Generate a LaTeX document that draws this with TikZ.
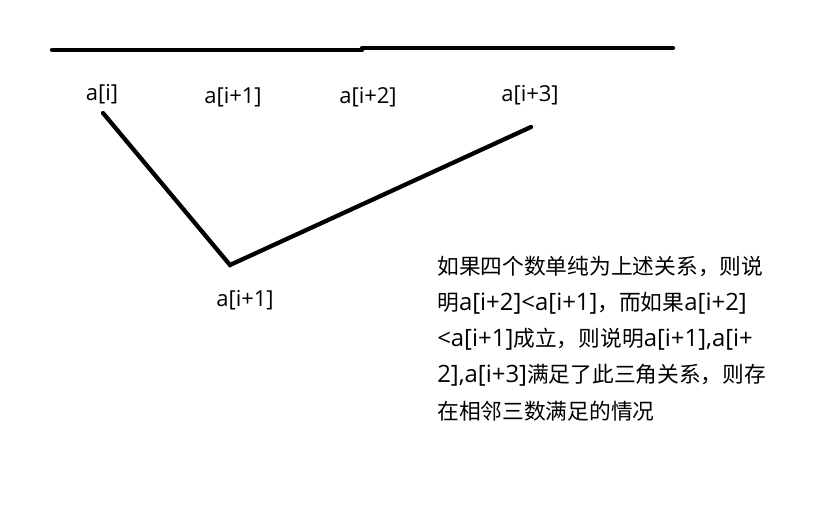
\documentclass[tikz,border=0pt]{standalone}
\usepackage{fontspec}
\setmainfont[Scale=1.1]{Open Sans}
\newfontfamily\cjk{Noto Sans CJK SC}
\usetikzlibrary{positioning}
\tikzset{
  heavy/.style = { line width=3.2pt, black, line cap=round },
  label/.style = { font=\fontsize{15}{17}\selectfont, inner sep=0pt },
  note/.style  = { font=\fontsize{16.3}{27.1}\selectfont, align=left, inner sep=0pt, anchor=north west }
}

\begin{document}
\begin{tikzpicture}[x=0.75pt,y=-0.75pt]
  \useasboundingbox (0,0) rectangle (828,516);

  % top line
  \coordinate (t0) at (52,50);
  \coordinate (t1) at (362,50);
  \coordinate (t2) at (362,48);
  \coordinate (t3) at (673,48);
  \draw [heavy] (t0) -- (t1);
  \draw [heavy] (t2) -- (t3);

  % labels
  \node (ai)   [label] at (102,94) {a[i]};
  \node (ai1)  [label] at (233,97) {a[i+1]};
  \node (ai2)  [label] at (368,97) {a[i+2]};
  \node (ai3)  [label] at (530,95) {a[i+3]};
  \node (low)  [label] at (245,300) {a[i+1]};

  % the V
  \coordinate (v0) at (103,113);
  \coordinate (v1) at (230,265);
  \coordinate (v2) at (531,127);
  \draw [heavy, line join=miter] (v0) -- (v1) -- (v2);

  \node (txt) [note] at (437,256)
    {{\cjk 如果四个数单纯为上述关系，则说}\\
     {\cjk 明}a[i+2]<a[i+1]{\cjk ，而如果}a[i+2]\\
     <a[i+1]{\cjk 成立，则说明}a[i+1],a[i+\\
     2],a[i+3]{\cjk 满足了此三角关系，则存}\\
     {\cjk 在相邻三数满足的情况}};
\end{tikzpicture}
\end{document}
